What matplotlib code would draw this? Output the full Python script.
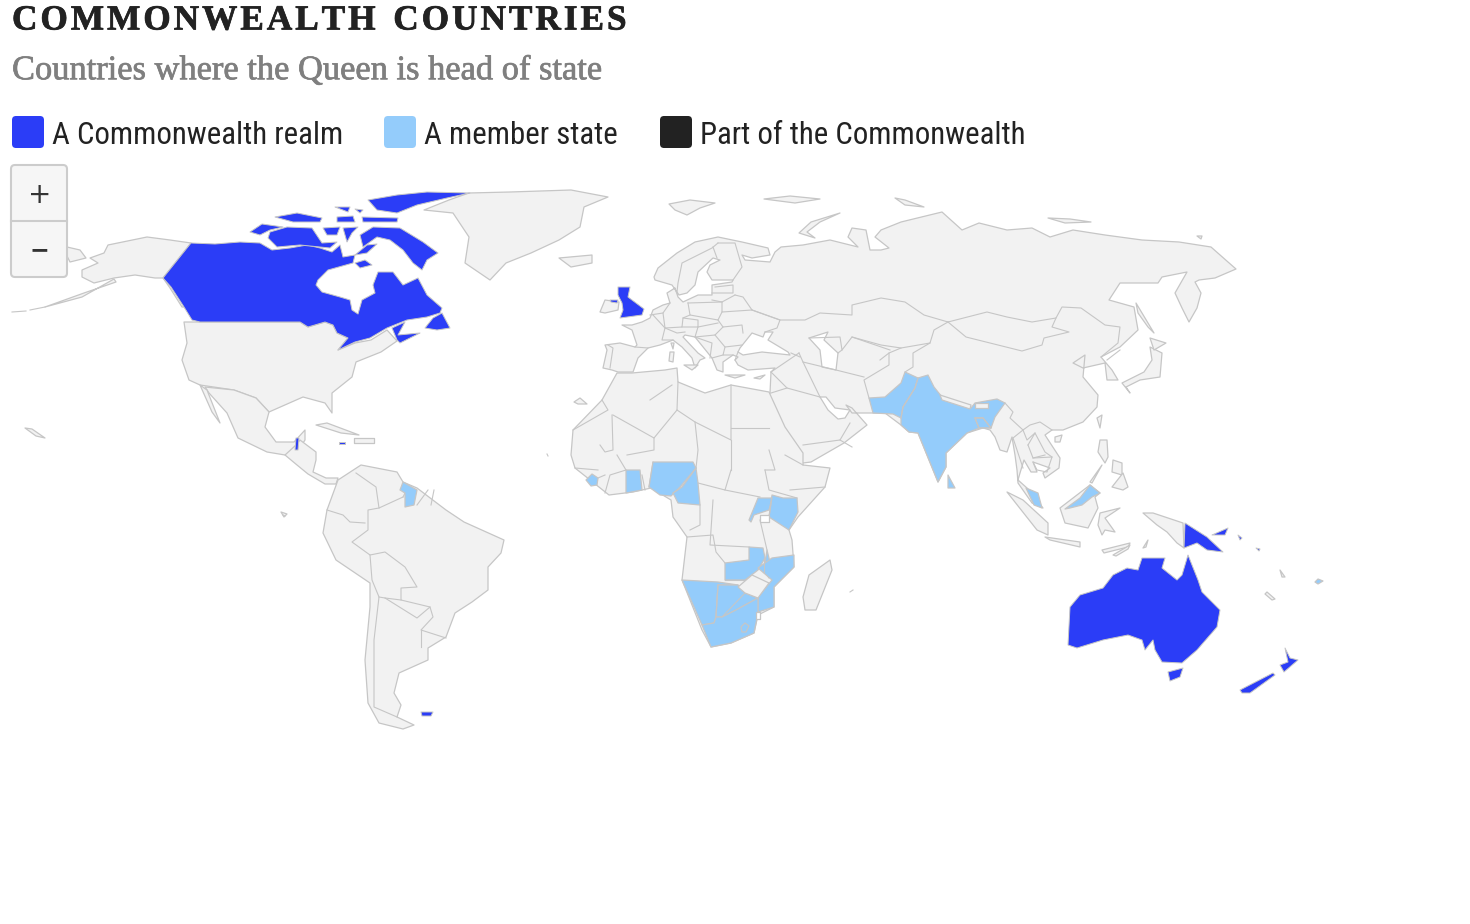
import matplotlib
matplotlib.use('Agg')
import matplotlib.pyplot as plt
import matplotlib.patheffects as pe
from matplotlib.patches import FancyBboxPatch

title = 'COMMONWEALTH COUNTRIES'
subtitle = 'Countries where the Queen is head of state'
legend_labels = ['A Commonwealth realm', 'A member state', 'Part of the Commonwealth']

BLUE = '#2b3df7'
LIGHT = '#94ccfb'
DARK = '#222222'
LAND = '#f2f2f2'
EDGE = '#c6c6c6'

# outlines, in picture coordinates
eurasia = [(605,345),(620,343),(635,347),(637,345),(632,330),(622,325),(632,325),(642,322),(650,318),(653,310),(663,305),
           (670,303),(667,293),(675,288),(678,297),(683,302),(698,295),(712,295),(712,285),(732,282),(733,280),(712,280),
           (707,272),(710,265),(720,260),(713,258),(698,272),(695,285),(687,293),(679,295),(672,285),(655,280),(654,277),
           (658,268),(677,253),(695,242),(718,237),(742,242),(768,248),(770,255),(752,258),(742,255),(745,260),(770,262),
           (775,252),(781,247),(803,245),(830,240),(858,247),(848,237),(852,228),(866,230),(870,250),
           (881,250),(889,248),(875,237),(881,230),(901,222),(942,212),(962,230),(979,223),(1007,230),(1032,228),(1050,237),
           (1073,230),(1105,235),(1142,240),(1179,242),(1211,247),(1228,262),(1236,269),(1215,278),(1199,280),(1195,282),
           (1201,293),(1197,308),(1189,322),(1182,308),(1175,293),(1187,272),(1162,277),(1158,283),(1120,283),(1109,300),
           (1134,307),(1138,330),(1120,347),(1101,357),(1112,370),(1118,380),(1107,380),(1105,363),(1083,368),(1073,363),
           (1085,355),(1083,377),(1098,395),(1097,407),(1083,422),(1063,430),(1052,430),(1045,435),(1060,458),(1059,468),
           (1045,478),(1043,473),(1050,468),(1033,462),(1037,472),(1031,472),(1024,460),(1020,473),(1018,480),(1027,488),
           (1043,508),(1032,503),(1018,483),(1017,470),(1015,455),(1012,437),(1007,452),(1000,450),(995,437),(990,430),
           (983,428),(967,433),(946,453),(946,467),(938,482),(918,433),(909,432),(901,425),(885,413),(873,413),(852,413),
           (846,405),(852,408),(867,425),(844,443),(811,462),(803,463),(787,440),(767,403),(770,393),(771,372),(775,368),
           (748,370),(738,365),(735,360),(738,357),(733,355),(723,362),(723,372),(717,370),(712,358),(695,337),(685,335),
           (683,337),(698,353),(705,358),(700,360),(695,368),(692,358),(682,347),(673,340),(660,345),(648,348),(638,358),
           (633,372),(618,372),(612,370),(603,368),(607,350)]
alaska = [(191,243),(170,240),(147,237),(108,245),(104,253),(90,258),(98,263),(82,270),(82,277),(94,283),(114,278),
          (135,275),(155,278),(163,278)]
alaska_peninsula = [(114,279),(82,297),(45,307),(84,293),(116,282)]
alaska_panhandle = [(163,278),(172,284),(186,307),(182,307),(170,288)]
chukotka_west = [(67,247),(80,250),(86,258),(70,262),(67,256)]
usa = [(184,322),(300,322),(308,327),(325,322),(333,325),(337,333),(348,338),(338,350),(355,343),(371,340),(387,330),(397,341),
       (381,352),(356,362),(352,377),(332,393),(332,413),(325,403),(303,397),(269,412),(256,398),(234,390),(200,385),(189,380),
       (182,360),(187,343)]
mexico = [(205,387),(234,390),(256,398),(269,412),(265,427),(276,442),(294,442),(305,430),(305,440),(297,452),(285,455),
          (267,452),(238,438),(227,413),(209,393)]
baja = [(200,385),(207,390),(220,423),(212,412)]
central_america = [(285,455),(296,445),(300,440),(316,452),(316,460),(313,472),(326,478),(338,478),(336,484),(325,484),
                   (308,474),(297,465)]
greenland = [(469,193),(510,192),(571,190),(608,197),(584,207),(580,227),(559,240),(531,253),(506,263),(490,280),(465,263),
             (469,237),(453,213),(424,210),(449,200)]
south_america = [(338,480),(361,465),(397,472),(403,482),(417,488),(446,510),(464,522),(504,540),(501,553),(488,567),(488,590),
                 (472,602),(455,613),(446,637),(428,648),(428,660),(399,673),(394,693),(401,705),(397,717),(414,725),(403,729),
                 (379,723),(368,703),(365,660),(370,607),(370,583),(336,560),(323,533),(327,510)]
africa = [(617,373),(632,373),(665,370),(677,368),(678,382),(705,393),(731,385),(769,392),(785,427),(803,453),(803,465),(830,468),
          (825,487),(798,517),(789,530),(792,540),(794,567),(774,587),(774,607),(758,615),(754,633),(731,643),(711,647),
          (702,630),(682,580),(687,537),(673,517),(671,500),(651,488),(633,492),(609,495),(575,468),(571,455),(573,430),(602,400)]
madagascar = [(830,560),(832,570),(816,610),(805,610),(803,597),(809,575)]
other_land = [
    [(559,258),(592,255),(592,263),(571,267)],  # iceland
    [(600,312),(605,300),(619,302),(618,310),(605,313)],  # ireland
    [(316,425),(327,423),(359,435),(341,433)],  # cuba
    [(354,438),(374,438),(374,443),(354,443)],  # hispaniola
    [(1150,347),(1162,353),(1160,377),(1140,380),(1126,387),(1130,393),(1122,383),(1144,372),(1152,360)],  # japan
    [(1150,338),(1166,343),(1154,350)],
    [(1136,303),(1154,333),(1148,327),(1138,313)],  # sakhalin
    [(1097,418),(1102,415),(1100,428)],  # taiwan
    [(1055,437),(1062,435),(1060,442),(1055,442)],  # hainan
    [(1100,440),(1107,440),(1108,457),(1105,463),(1098,452)],  # luzon
    [(1113,460),(1122,463),(1122,475),(1112,472)],
    [(1112,487),(1123,473),(1128,487),(1123,490)],  # mindanao
    [(1090,482),(1102,465),(1092,483)],  # palawan
    [(1060,508),(1090,485),(1100,493),(1095,497),(1098,508),(1088,528),(1065,523)],  # borneo
    [(1007,492),(1023,500),(1048,523),(1048,535),(1037,530)],  # sumatra
    [(1045,537),(1080,542),(1080,547),(1050,540)],  # java
    [(1100,513),(1120,508),(1105,518),(1115,532),(1105,530),(1102,535),(1098,525)],  # sulawesi
    [(1143,513),(1153,513),(1183,523),(1184,548),(1177,543),(1167,532),(1157,525)],  # new guinea
    [(1102,550),(1130,543),(1128,547),(1104,553)],
    [(1113,555),(1130,545),(1128,549),(1116,556)],
    [(1267,592),(1275,599),(1272,600),(1265,594)],
    [(1280,570),(1285,577),(1282,577)],
    [(811,222),(840,213),(820,222),(807,232),(815,238),(799,233)],  # novaya zemlya
    [(669,204),(690,200),(715,203),(700,208),(687,215),(675,210)],  # svalbard
    [(764,199),(790,196),(820,199),(795,203)],
    [(895,198),(905,200),(924,207),(905,205)],
    [(1048,218),(1070,219),(1091,222),(1065,223)],
    [(1197,236),(1202,236),(1201,239)],
    [(670,352),(674,352),(673,362),(669,361)],  # sardinia
    [(671,343),(674,343),(673,349)],  # corsica
    [(684,365),(698,365),(692,370)],  # sicily
    [(725,375),(745,375),(735,378)],  # crete
    [(754,378),(765,375),(760,379)],  # cyprus
    [(574,402),(580,398),(587,404),(578,404)],
    [(25,428),(32,429),(45,438),(36,436)],
    [(281,512),(287,514),(284,517)],
    [(1143,548),(1148,540),(1146,547)],
]
seas = [
    [(740,348),(752,333),(763,337),(765,332),(773,332),(768,340),(788,352),(790,355),(762,352),(743,355),(738,352)],  # black sea
    [(809,338),(828,332),(824,340),(838,353),(836,370),(822,367),(820,350)],  # caspian
    [(820,397),(826,397),(835,408),(850,410),(845,418),(838,419),(828,410)],  # gulf
]
borders = [
    # russia, central asia, mongolia, china
    [(752,310),(780,320),(805,320),(820,313),(852,315),(852,305),(881,298),(905,302),(924,315),(948,322)],
    [(948,322),(987,312),(1007,317),(1032,322),(1056,318),(1062,307),(1081,308),(1105,325),(1120,327),(1118,343),(1101,357)],
    [(948,322),(966,337),(1022,351),(1042,345),(1044,338),(1069,332),(1052,327),(1056,318)],
    [(809,338),(840,337),(842,350),(852,337),(881,345),(901,348),(930,343),(934,330),(948,322)],
    [(930,343),(913,353),(913,367),(905,372)],
    [(842,350),(838,353)],[(852,337),(890,350)],[(889,353),(880,360)],
    [(901,348),(889,353),(889,365),(864,380),(869,398)],
    [(1005,403),(1013,412),(1010,418),(1023,430),(1030,425),(1040,422),(1052,430)],
    [(1023,430),(1027,440),(1035,433),(1045,452),(1052,457)],
    [(1013,438),(1023,430)],[(1013,438),(1023,468)],[(1028,445),(1035,433)],[(1045,455),(1033,458),(1028,445)],
    [(1033,458),(1052,457),(1047,472),(1037,470),(1033,462)],
    # middle east
    [(771,372),(799,353)],[(799,353),(803,362),(820,397)],[(803,362),(836,370),(864,377)],
    [(771,393),(787,388),(820,397)],[(771,372),(787,388)],[(803,445),(840,440),(850,423)],[(840,440),(852,447)],
    [(791,353),(800,357)],
    # north africa
    [(678,382),(677,410),(695,422),(731,440),(731,385)],[(731,428),(769,428)],[(731,440),(731,470)],
    [(650,400),(672,385)],[(602,400),(608,410),(573,430)],[(612,415),(613,450),(605,452),(600,445)],
    [(613,415),(654,438),(677,410)],[(654,438),(654,450),(627,455)],[(695,422),(698,450),(696,468)],
    [(731,470),(725,490),(698,483)],[(765,470),(769,490),(797,498)],[(769,450),(775,470),(765,470)],
    [(725,490),(760,497)],[(785,455),(803,465)],[(790,490),(825,487)],[(713,500),(710,545),(749,547)],
    [(687,537),(713,535),(716,552),(725,563)],[(700,505),(700,525),(690,530)],[(760,520),(767,550)],
    [(626,470),(610,475),(605,493)],[(642,475),(645,490)],[(626,470),(617,455)],[(649,487),(653,462)],
    [(598,478),(605,475)],[(575,468),(598,470)],
    # south america
    [(356,473),(376,487),(379,508),(403,497)],[(417,505),(428,490)],[(431,505),(434,490)],
    [(379,508),(368,510),(368,530),(352,542),(370,555),(385,552),(405,567),(417,587),(401,588),(401,600),(430,607),
     (433,617),(421,630),(446,638)],
    [(370,555),(372,580),(379,597),(374,640),(374,677),(374,707),(397,717)],
    [(379,597),(385,598),(401,600)],[(385,598),(417,618),(430,607)],[(421,630),(421,647)],
    [(327,510),(343,515),(350,522),(365,523)],[(403,497),(405,493)],
    # europe
    [(718,243),(712,248),(682,263),(678,283),(677,292)],[(713,247),(717,258)],[(718,243),(735,243),(742,267),(733,280)],
    [(715,287),(733,285),(733,293),(712,293)],[(735,295),(722,302),(712,300)],[(722,302),(722,312),(752,310),(743,297),(735,295)],
    [(688,303),(722,302)],[(688,303),(690,315),(718,320),(722,312)],[(718,320),(723,327),(742,325),(743,333)],
    [(752,310),(780,320),(777,328),(765,332)],[(670,303),(663,313),(665,328),(682,327),(683,318),(690,315)],
    [(683,318),(698,320),(698,327),(682,327)],[(698,327),(718,323)],[(698,327),(695,337),(715,335),(723,327)],
    [(715,335),(725,347),(742,345)],[(725,347),(723,355),(733,355)],[(695,337),(712,343),(710,358)],
    [(653,315),(665,328),(662,340),(673,340)],[(665,328),(677,333),(685,332)],[(635,347),(648,348)],
    [(608,345),(613,348),(610,368)],[(650,315),(663,313)],[(723,355),(712,358)],
    [(738,352),(735,360)],[(1107,360),(1120,350)],
]
falklands = [(421,712),(433,712),(431,716),(422,716)]

realm_shapes = [
    [(191,243),(215,244),(240,242),(260,243),(272,250),(290,248),(307,245),(320,248),(332,252),(340,245),(343,257),(355,255),
     (353,263),(328,270),(318,280),(316,285),(322,292),(340,297),(350,300),(352,310),(358,314),(362,300),(375,293),(373,285),
     (378,272),(393,272),(403,285),(418,278),(427,295),(442,308),(440,313),(427,317),(407,320),(387,328),(370,338),(355,342),
     (338,350),(348,338),(337,333),(333,325),(325,322),(308,327),(300,322),(200,322),(192,320),(184,307),(171,287),(163,278)],
    [(355,255),(367,245),(377,244),(367,253)],  # melville peninsula
    [(425,328),(433,318),(442,313),(450,328),(437,330)],  # newfoundland
    [(392,328),(405,322),(398,335),(420,333),(400,343),(397,340)],  # maritimes
    [(360,235),(373,227),(400,228),(423,242),(438,253),(427,260),(422,270),(413,263),(403,250),(390,240),(377,237),(363,247)],
    [(268,238),(270,232),(287,227),(312,228),(322,243),(337,242),(330,248),(300,245),(277,247)],  # victoria
    [(250,232),(262,224),(283,227),(270,230),(260,235)],  # banks
    [(355,263),(365,260),(372,265),(360,268)],  # southampton
    [(323,228),(340,227),(337,235),(327,235)],
    [(343,228),(358,227),(352,233),(347,242)],
    [(368,200),(397,195),(427,192),(470,193),(447,198),(417,205),(397,213),(377,210)],  # ellesmere
    [(362,217),(398,218),(397,222),(363,222)],  # devon
    [(337,217),(353,216),(355,222),(337,222)],
    [(275,217),(297,213),(322,218),(320,222),(293,222)],  # melville
    [(335,207),(350,207),(348,212)],
    [(355,209),(363,210),(360,213)],
    [(618,287),(630,287),(628,297),(644,309),(642,315),(620,318),(623,310),(622,303),(618,295)],  # britain
    [(610,300),(618,300),(617,303),(611,302)],
    [(1068,645),(1070,607),(1080,595),(1103,588),(1113,575),(1127,568),(1138,570),(1142,558),(1165,558),(1162,568),(1177,580),
     (1182,575),(1188,555),(1198,580),(1202,592),(1220,610),(1217,627),(1197,650),(1182,663),(1162,662),(1155,650),(1153,640),
     (1145,650),(1142,640),(1128,635),(1103,640),(1077,648)],
    [(1168,672),(1183,668),(1180,677),(1170,681)],
    [(1285,648),(1290,658),(1298,660),(1284,672),(1280,665),(1288,662)],
    [(1240,690),(1273,673),(1275,675),(1250,693),(1242,693)],
    [(1185,523),(1207,537),(1223,552),(1207,550),(1197,543),(1184,548)],
    [(1212,535),(1228,528),(1225,535)],
    [(296,438),(299,438),(298,450),(295,450)],
    [(339,442),(345,442),(345,444),(339,444)],
    [(1238,535),(1242,538),(1240,540)],[(1256,548),(1260,549),(1259,551)],
]
member_shapes = [
    [(586,480),(592,474),(598,478),(597,485),(591,486)],
    [(626,470),(640,470),(642,490),(626,493)],
    [(653,462),(693,462),(696,468),(680,487),(671,496),(660,495),(649,487)],
    [(696,468),(698,483),(700,505),(678,503),(673,493),(682,487)],
    [(758,498),(772,498),(769,510),(754,515),(751,522),(749,520)],
    [(772,495),(783,498),(797,498),(798,512),(789,530),(769,517)],
    [(725,563),(749,560),(749,547),(763,548),(765,558),(758,570),(745,580),(725,580)],
    [(767,550),(772,570),(769,578),(764,570)],
    [(772,558),(794,555),(794,567),(774,587),(774,607),(758,612),(758,597),(772,580),(758,568)],
    [(682,580),(718,582),(738,585),(718,585),(716,617),(714,623),(702,625)],
    [(718,585),(738,585),(745,593),(758,598),(736,610),(722,617),(716,617)],
    [(716,617),(722,617),(736,610),(758,598),(758,613),(754,633),(731,643),(711,647),(702,625),(714,623)],
    [(403,482),(417,490),(414,505),(405,507),(405,493),(400,490)],
    [(905,372),(918,378),(915,388),(903,407),(901,418),(893,414),(873,413),(869,398),(885,397),(901,383)],
    [(918,378),(928,375),(934,387),(942,397),(971,408),(975,403),(997,399),(1005,403),(995,417),(991,428),(983,418),(975,418),
     (979,428),(967,433),(946,453),(946,467),(938,482),(918,433),(909,432),(901,425),(901,418),(903,407),(915,388)],
    [(975,418),(983,418),(991,428),(979,428)],
    [(948,475),(955,488),(948,488)],
    [(1026,488),(1038,493),(1042,508),(1034,505)],
    [(1065,509),(1080,498),(1090,485),(1100,493),(1092,497),(1082,505),(1070,508)],
    [(1318,579),(1323,581),(1318,584),(1315,582)],
]
member_borders = [[(903,407),(915,388),(918,378)],[(901,418),(903,407)],[(975,418),(983,418),(991,428),(979,428),(975,418)],
                  [(696,468),(682,487),(673,493)],[(772,498),(769,517)],[(725,580),(745,580)],[(718,585),(716,617)],
                  [(745,593),(722,617)],[(764,558),(764,572)]]
grey_on_top = [
    [(738,587),(752,575),(769,583),(758,598),(745,593)],  # zimbabwe
    [(940,395),(971,405),(970,409),(942,400)],  # nepal
    [(975,403),(988,403),(988,408),(975,408)],  # bhutan
]
white_on_top = [
    [(760,515),(769,515),(769,522),(760,522)],  # lake victoria
    [(756,612),(760,612),(760,619),(756,619)],
]
lesotho = [(741,627),(745,623),(749,626),(746,632),(742,632)]


def draw_shapes(ax, shapes, color, edge=EDGE, lw=0.9, z=2):
    for shape in shapes:
        xs = [p[0] for p in shape]
        ys = [p[1] for p in shape]
        ax.fill(xs, ys, facecolor=color, edgecolor=edge, linewidth=lw, zorder=z, joinstyle='round')


def draw_lines(ax, lines, z=3):
    for line in lines:
        ax.plot([p[0] for p in line], [p[1] for p in line], color=EDGE, linewidth=0.8, zorder=z)


fig = plt.figure(figsize=(14.7, 9.24), dpi=100)
ax = fig.add_axes([0, 0, 1, 1])
ax.set_xlim(0, 1470)
ax.set_ylim(924, 0)
ax.axis('off')

land = [eurasia, alaska, alaska_peninsula, alaska_panhandle, chukotka_west, usa, mexico, baja, central_america,
        greenland, south_america, africa, madagascar] + other_land
draw_shapes(ax, land, LAND)
draw_shapes(ax, seas, 'white', z=2.5)
draw_lines(ax, borders)
draw_shapes(ax, member_shapes, LIGHT, z=4)
draw_lines(ax, member_borders, z=5)
draw_shapes(ax, grey_on_top, LAND, z=5)
draw_shapes(ax, white_on_top, 'white', z=5)
draw_shapes(ax, [lesotho], LIGHT, z=5)
draw_shapes(ax, realm_shapes, BLUE, lw=0.7, z=6)
draw_shapes(ax, [falklands], BLUE, lw=0.7, z=6)

# small scattered coast marks
draw_lines(ax, [[(12,312),(26,311)], [(45,307),(30,310)], [(283,515),(285,516)], [(547,454),(548,456)], [(850,592),(853,590)]])

# heading, letters spread out
serif = ['Liberation Serif', 'DejaVu Serif']
ax.text(12, 21, '\u200a'.join(title).replace('\u200a \u200a', '\u2002'), family=serif, fontsize=25.4, weight='bold',
        color='#222222', va='center', ha='left',
        path_effects=[pe.withStroke(linewidth=0.5, foreground='#222222')])
ax.text(12, 71, subtitle, family=serif, fontsize=24.8, color='#7f7f7f', va='center', ha='left',
        path_effects=[pe.withStroke(linewidth=0.5, foreground='#7f7f7f')])

# legend
swatch_x = [12, 384, 660]
text_x = [52, 424, 700]
swatch_colors = [BLUE, LIGHT, DARK]
narrow = ['Liberation Sans Narrow', 'Roboto Condensed', 'Roboto', 'DejaVu Sans']
for sx, tx, col, lab in zip(swatch_x, text_x, swatch_colors, legend_labels):
    ax.add_patch(FancyBboxPatch((sx + 3, 119), 26, 26, boxstyle='round,pad=3,rounding_size=4',
                                facecolor=col, edgecolor='none', zorder=7))
    ax.text(tx, 136, lab, family=narrow, fontsize=22.2, stretch='condensed', color='#222222', va='center', ha='left')

# zoom buttons
ax.add_patch(FancyBboxPatch((14, 168), 50, 106, boxstyle='round,pad=3,rounding_size=4',
                            facecolor='#f6f6f6', edgecolor='#cccccc', linewidth=1.5, zorder=8))
ax.plot([11, 67], [221, 221], color='#cccccc', linewidth=1.5, zorder=9)
ax.text(39.5, 195, '+', fontsize=20, family='DejaVu Sans', color='#333333', ha='center', va='center', zorder=9)
ax.text(39.5, 250, '\u2212', fontsize=17, family='DejaVu Sans', weight='bold', color='#333333', ha='center', va='center', zorder=9)

fig.savefig('out.png', dpi=100, facecolor='white')
